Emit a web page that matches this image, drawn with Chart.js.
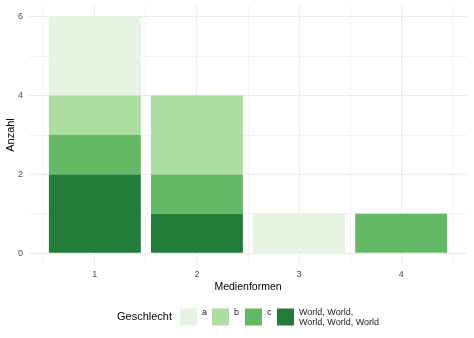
<!DOCTYPE html>
<html>
<head>
<meta charset="utf-8">
<script src="https://cdn.jsdelivr.net/npm/chart.js@4/dist/chart.umd.min.js"></script>
<style>
  html, body { margin: 0; padding: 0; background: #fff; }
  #wrap { width: 474px; height: 338px; }
</style>
</head>
<body>
<div id="wrap"><canvas id="myChart" width="474" height="338"></canvas></div>
<script>
// Medienformen on x, count per Geschlecht stacked
var medienformen = [1, 2, 3, 4];
var seriesA = [2, 0, 1, 0];
var seriesB = [1, 2, 0, 0];
var seriesC = [1, 1, 0, 1];
var seriesWorld = [2, 1, 0, 0];

// legend text (multi-line for the long one)
var seriesNames = [['a'], ['b'], ['c'], ['World, World,', 'World, World, World']];
var seriesColors = ['#e6f4e1', '#abdea0', '#64b964', '#217c37'];

var yTicks = [0, 1, 2, 3, 4, 5, 6];
var xTicks = [0.5, 1, 1.5, 2, 2.5, 3, 3.5, 4, 4.5];

var FONT = "'Liberation Sans', Arial, sans-serif";

function points(vals) {
  return vals.map(function (v, i) { return { x: medienformen[i], y: v }; });
}

// bottom of the stack first
var stackOrder = [3, 2, 1, 0];
var allValues = [seriesA, seriesB, seriesC, seriesWorld];
var datasets = stackOrder.map(function (k) {
  return {
    label: seriesNames[k].join(' '),
    data: points(allValues[k]),
    backgroundColor: seriesColors[k],
    borderWidth: 0,
    // the half-step ticks halve the sample spacing, so 1.8 -> 0.9 of a unit
    categoryPercentage: 1.8,
    barPercentage: 1.0
  };
});

//---------------------------------------------------------
// legend at the bottom, drawn like a horizontal key row
//---------------------------------------------------------
var keyLegend = {
  id: 'keyLegend',
  afterDraw: function (chart) {
    var ctx = chart.ctx;
    ctx.save();
    ctx.fillStyle = '#000';
    ctx.font = '11px ' + FONT;
    ctx.textAlign = 'left';
    ctx.textBaseline = 'middle';
    ctx.fillText('Geschlecht', 117, 317);

    var keyX = [180, 212, 245, 277];
    ctx.font = '9px ' + FONT;
    for (var i = 0; i < seriesNames.length; i++) {
      ctx.fillStyle = seriesColors[i];
      ctx.fillRect(keyX[i], 308.5, 17, 17);
      ctx.fillStyle = '#1a1a1a';
      var lines = seriesNames[i];
      for (var j = 0; j < lines.length; j++) {
        ctx.fillText(lines[j], keyX[i] + 22, 312.5 + j * 10);
      }
    }
    ctx.restore();
  }
};

var whiteBg = {
  id: 'whiteBg',
  beforeDraw: function (chart) {
    var ctx = chart.ctx;
    ctx.save();
    ctx.fillStyle = '#fff';
    ctx.fillRect(0, 0, chart.width, chart.height);
    ctx.restore();
  }
};

const config = {
  type: 'bar',
  data: { datasets: datasets },
  options: {
    responsive: false,
    animation: false,
    layout: { padding: { left: 0, right: 7, top: 5, bottom: 45 } },
    plugins: {
      legend: { display: false },
      tooltip: { enabled: false }
    },
    scales: {
      x: {
        type: 'linear',
        stacked: true,
        min: 0.355,
        max: 4.645,
        offset: false,
        afterBuildTicks: function (scale) {
          scale.ticks = xTicks.map(function (v) { return { value: v }; });
        },
        afterFit: function (scale) {
          scale.height = 28;
          scale.paddingLeft = 0;
          scale.paddingRight = 0;
        },
        border: { display: false },
        grid: {
          offset: false,
          drawTicks: false,
          color: function (c) { return Number.isInteger(c.tick.value) ? '#ebebeb' : '#f3f3f3'; },
          lineWidth: 1
        },
        ticks: {
          padding: 4,
          autoSkip: false,
          maxRotation: 0,
          color: '#4d4d4d',
          font: { family: FONT, size: 9 },
          callback: function (v) { return Number.isInteger(v) ? String(v) : ''; }
        },
        title: {
          display: true,
          text: 'Medienformen',
          color: '#000',
          font: { family: FONT, size: 10.5 },
          padding: { top: 0, bottom: 0 }
        }
      },
      y: {
        stacked: true,
        min: -0.3,
        max: 6.3,
        afterBuildTicks: function (scale) {
          scale.ticks = yTicks.map(function (v) { return { value: v }; });
        },
        afterFit: function (scale) {
          scale.width = 29;
          scale.paddingTop = 0;
          scale.paddingBottom = 0;
        },
        border: { display: false },
        grid: {
          drawTicks: false,
          color: function (c) { return c.tick.value % 2 === 0 ? '#ebebeb' : '#f3f3f3'; },
          lineWidth: 1
        },
        ticks: {
          padding: 6,
          color: '#4d4d4d',
          font: { family: FONT, size: 9 },
          callback: function (v) { return v % 2 === 0 ? String(v) : ''; }
        },
        title: {
          display: true,
          text: 'Anzahl',
          color: '#000',
          font: { family: FONT, size: 11 },
          padding: { top: 4, bottom: 0 }
        }
      }
    }
  },
  plugins: [whiteBg, keyLegend]
};

const myChart = new Chart(document.getElementById('myChart'), config);
</script>
</body>
</html>
